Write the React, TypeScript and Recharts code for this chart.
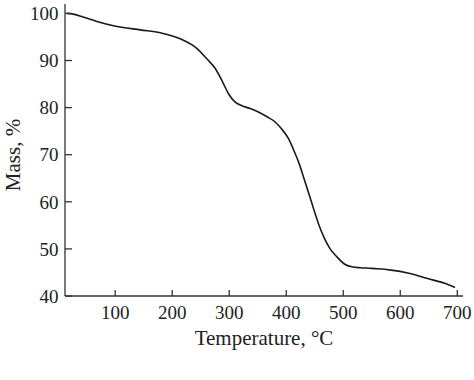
import { LineChart, Line, XAxis, YAxis } from 'recharts';

const temperature = [
    15, 24, 45, 68, 97, 144, 179, 214, 243, 262, 275, 287, 299, 310, 322, 337, 352, 367, 380, 391,
    404, 413, 423, 431, 439, 448, 457, 466, 477, 489, 502, 515, 530, 545, 560, 584, 613, 648, 678, 696,
];
const mass = [
    100.0, 99.9, 99.2, 98.3, 97.4, 96.5, 95.9, 94.6, 92.6, 90.2, 88.4, 85.8, 82.9, 81.2, 80.4, 79.8, 79.0,
    78.0, 77.0, 75.6, 73.4, 71.0, 68.0, 65.0, 62.0, 58.5, 55.2, 52.5, 50.0, 48.3, 46.8, 46.2, 46.0, 45.9,
    45.8, 45.5, 44.9, 43.7, 42.7, 41.8,
];
const xTicks = [100, 200, 300, 400, 500, 600, 700];
const yTicks = [40, 50, 60, 70, 80, 90, 100];

const FONT = '"Liberation Serif", "DejaVu Serif", serif';
const AXIS = '#333';

const YLabel = () => (
    <text
        x={19.5}
        y={155}
        transform="rotate(-90 19.5 155)"
        textAnchor="middle"
        fontFamily={FONT}
        fontSize={21}
        fill="#222"
    >
        Mass, %
    </text>
);

export default function App() {
    const data = temperature.map((t, i) => ({ t, m: mass[i] }));

    return (
        <div style={{ position: 'absolute', left: 0, top: 0, background: '#fff' }}>
            <LineChart
                width={474}
                height={380}
                data={data}
                margin={{ top: 4, right: 11, left: 0, bottom: 0 }}
            >
                <XAxis
                    dataKey="t"
                    type="number"
                    domain={[12, 710]}
                    ticks={xTicks}
                    height={84}
                    tickSize={-6}
                    tickMargin={16}
                    axisLine={{ stroke: AXIS, strokeWidth: 1.3 }}
                    tickLine={{ stroke: AXIS, strokeWidth: 1.3 }}
                    tick={{ fontSize: 19, fill: '#222', fontFamily: FONT }}
                    label={{
                        value: 'Temperature, °C',
                        position: 'insideBottom',
                        offset: 35,
                        fontSize: 21,
                        fill: '#222',
                        fontFamily: FONT,
                    }}
                />
                <YAxis
                    type="number"
                    domain={[40, 102]}
                    ticks={yTicks}
                    width={65}
                    tickSize={-7}
                    tickMargin={13.5}
                    axisLine={{ stroke: AXIS, strokeWidth: 1.3 }}
                    tickLine={{ stroke: AXIS, strokeWidth: 1.3 }}
                    tick={{ fontSize: 19, fill: '#222', fontFamily: FONT }}
                    label={<YLabel />}
                />
                <Line
                    type="monotone"
                    dataKey="m"
                    stroke="#1a1a1a"
                    strokeWidth={1.6}
                    dot={false}
                    isAnimationActive={false}
                />
            </LineChart>
        </div>
    );
}
